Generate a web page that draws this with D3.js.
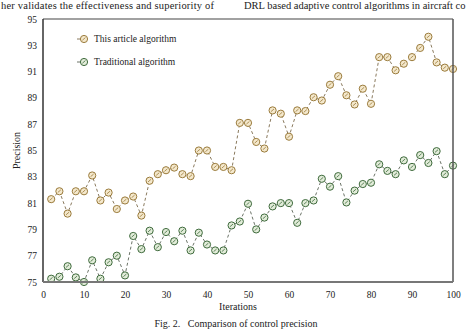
<!DOCTYPE html>
<html>
<head>
<meta charset="utf-8">
<script src="https://cdn.jsdelivr.net/npm/d3@7"></script>
<style>
  html, body { margin: 0; padding: 0; background: white; }
  #viz_canvas { width: 474px; height: 332px; overflow: hidden; }
  text { font-family: "Liberation Serif", "DejaVu Serif", serif; fill: #222; }
</style>
</head>
<body>
<div id="viz_canvas"></div>
<script>
"use strict";

var iterations = d3.range(2, 101, 2);
var articleValues = [81.3, 81.9, 80.2, 81.9, 81.9, 83.1, 81.2, 81.8, 80.55, 81.2,
    81.5, 80.05, 82.7, 83.2, 83.5, 83.7, 83.2, 83.05, 85.0, 85.0,
    83.75, 83.75, 83.5, 87.1, 87.1, 85.65, 85.15, 88.05, 87.8, 86.05,
    88.05, 88.0, 89.05, 88.8, 90.0, 90.65, 89.2, 88.5, 89.7, 88.55,
    92.1, 92.1, 91.1, 91.6, 92.1, 92.8, 93.65, 91.7, 91.3, 91.2];
var traditionalValues = [75.25, 75.4, 76.2, 75.35, 75.0, 76.65, 75.25, 76.5, 77.0, 75.5,
    78.5, 77.5, 78.9, 77.65, 78.8, 78.1, 78.9, 77.4, 78.75, 77.85,
    77.4, 77.4, 79.3, 79.6, 80.95, 79.0, 79.9, 80.75, 81.0, 81.0,
    79.5, 81.0, 81.2, 82.85, 82.25, 83.05, 81.05, 81.95, 82.45, 82.55,
    83.95, 83.45, 83.2, 84.25, 83.75, 84.65, 84.05, 84.95, 83.2, 83.85];
var xTicks = d3.range(0, 101, 10);
var yTicks = d3.range(75, 96, 2);
var seriesNames = ["This article algorithm", "Traditional algorithm"];

var createChart = function () {
    var width = 474, height = 332;
    var left = 43, right = 453, top = 19, bottom = 282;

    var svg = d3.select("#viz_canvas").append("svg")
        .attr("width", width)
        .attr("height", height);

    var x = d3.scaleLinear().domain([0, 100]).range([left, right]);
    var y = d3.scaleLinear().domain([75, 95]).range([bottom, top]);

    // page text from the paper above the figure
    svg.append("text").attr("x", 1).attr("y", 9)
        .style("font-size", "10.5px")
        .attr("textLength", 213).attr("lengthAdjust", "spacing")
        .text("her validates the effectiveness and superiority of");
    svg.append("text").attr("x", 244).attr("y", 9)
        .style("font-size", "10.5px")
        .text("DRL based adaptive control algorithms in aircraft co");

    var series = [
        { name: seriesNames[0], values: articleValues, stroke: "#9a7b3c", fill: "#f4e8cc", line: "#8a7a5e" },
        { name: seriesNames[1], values: traditionalValues, stroke: "#3e6a3c", fill: "#e2ecd9", line: "#6c7468" }
    ];

    var line = d3.line()
        .x((d, i) => x(iterations[i]))
        .y(d => y(d));

    series.forEach(function (s) {
        svg.append("path")
            .attr("d", line(s.values))
            .attr("fill", "none")
            .attr("stroke", s.line)
            .attr("stroke-width", 1)
            .attr("stroke-dasharray", "3,2.5");
    });

    function drawMarker(g, s) {
        g.append("circle")
            .attr("r", 3.6)
            .attr("fill", s.fill)
            .attr("stroke", s.stroke)
            .attr("stroke-width", 1);
        g.append("line")
            .attr("x1", -1.6).attr("y1", 1.2)
            .attr("x2", 1.4).attr("y2", -1.4)
            .attr("stroke", s.stroke)
            .attr("stroke-width", 0.8);
    }

    series.forEach(function (s) {
        svg.append("g").selectAll("g")
            .data(s.values)
            .enter().append("g")
            .attr("transform", (d, i) => "translate(" + x(iterations[i]) + "," + y(d) + ")")
            .each(function () { drawMarker(d3.select(this), s); });
    });

    // frame
    svg.append("line").attr("x1", left).attr("x2", right).attr("y1", top).attr("y2", top)
        .attr("stroke", "#444").attr("stroke-width", 1.2);
    svg.append("line").attr("x1", right).attr("x2", right).attr("y1", top).attr("y2", bottom)
        .attr("stroke", "#555").attr("stroke-width", 1.5);
    svg.append("line").attr("x1", left).attr("x2", left).attr("y1", top).attr("y2", bottom)
        .attr("stroke", "#333").attr("stroke-width", 1.5);
    svg.append("line").attr("x1", left).attr("x2", right).attr("y1", bottom).attr("y2", bottom)
        .attr("stroke", "#777").attr("stroke-width", 2);

    // axes
    var xAxis = svg.append("g")
        .attr("transform", "translate(0," + bottom + ")")
        .call(d3.axisBottom(x).tickValues(xTicks).tickSize(0).tickPadding(9));
    xAxis.select(".domain").remove();
    xAxis.selectAll("text")
        .style("font-family", "Liberation Serif, serif")
        .style("font-size", "9.5px")
        .attr("fill", "#222");

    var yAxis = svg.append("g")
        .attr("transform", "translate(" + left + ",0)")
        .call(d3.axisLeft(y).tickValues(yTicks).tickSize(0).tickPadding(6));
    yAxis.select(".domain").remove();
    yAxis.selectAll("text")
        .style("font-family", "Liberation Serif, serif")
        .style("font-size", "9.5px")
        .attr("fill", "#222");

    svg.append("text")
        .attr("transform", "translate(20," + ((top + bottom) / 2) + ") rotate(-90)")
        .attr("text-anchor", "middle")
        .style("font-size", "10px")
        .text("Precision");

    svg.append("text")
        .attr("x", 238).attr("y", 310)
        .attr("text-anchor", "middle")
        .style("font-size", "10px")
        .text("Iterations");

    svg.append("text")
        .attr("x", 236).attr("y", 327)
        .attr("text-anchor", "middle")
        .style("font-size", "10px")
        .style("white-space", "pre")
        .text("Fig. 2.   Comparison of control precision");

    // legend
    var legend = svg.append("g").selectAll("g")
        .data(series)
        .enter().append("g")
        .attr("transform", (d, i) => "translate(77," + (39 + i * 23) + ")");
    legend.append("line")
        .attr("x1", 0).attr("x2", 14)
        .attr("stroke", d => d.line)
        .attr("stroke-width", 1)
        .attr("stroke-dasharray", "3,4");
    legend.append("g")
        .attr("transform", "translate(7,0)")
        .each(function (d) { drawMarker(d3.select(this), d); });
    legend.append("text")
        .attr("x", 17).attr("dy", "0.35em")
        .style("font-size", "9.5px")
        .text(d => d.name);
};

createChart();
</script>
</body>
</html>
